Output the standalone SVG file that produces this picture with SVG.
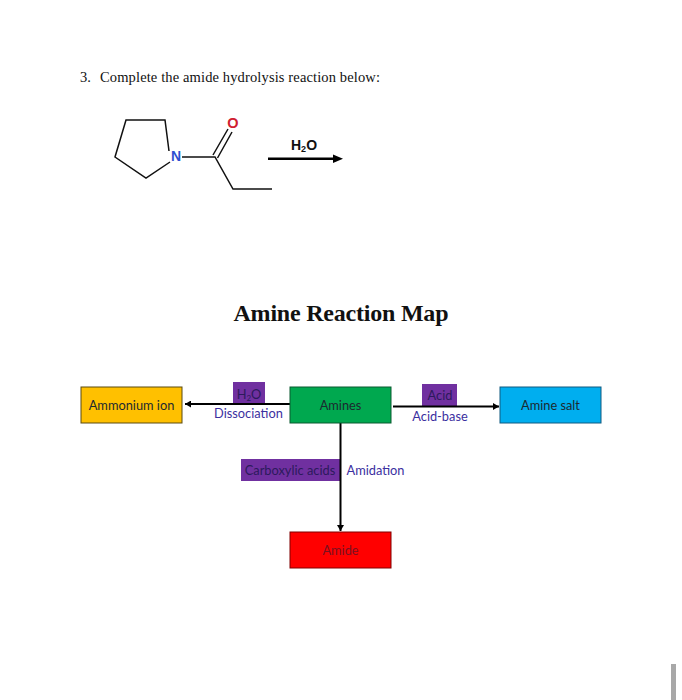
<svg xmlns="http://www.w3.org/2000/svg" width="682" height="700" viewBox="0 0 682 700">
<style>
.node{stroke-width:1}
.tag{fill:#7030a0}
.l{font-family:Lato,"Open Sans",sans-serif;font-size:12.8px;text-anchor:middle;fill:#1c2a30}
.d{fill:#2c1a5c}
.b{font-family:Lato,"Open Sans",sans-serif;font-size:12.8px;text-anchor:middle;fill:#3b2fa0}
.c{fill:none;stroke:#000;stroke-width:2}
.m{fill:none;stroke:#111;stroke-width:1.500}
.s{font-family:"Liberation Serif",serif;fill:#111}
.a{font-family:"Liberation Sans",Arial,sans-serif;font-weight:700}
</style>
<defs>
<marker id="ah" markerUnits="userSpaceOnUse" markerWidth="7" markerHeight="7" refX="6" refY="3.5" orient="auto"><path d="M0 0L6 3.5L0 7Z" fill="#000"/></marker>
</defs>
<rect width="682" height="700" fill="#fff"/>
<text class="s" x="80" y="82" font-size="14.5">3.</text>
<text class="s" x="100" y="82" font-size="14.5" textLength="280">Complete the amide hydrolysis reaction below:</text>
<g id="molecule">
<path class="m" d="M169 151L165 120H126L115 157L146 178L170 162"/>
<path class="m" d="M182 157H215L233 189H272"/>
<path class="m" d="M213 155L228 129M217.500 158L232 132"/>
<text class="a" x="176" y="161" font-size="14" text-anchor="middle" fill="#2f4fd0">N</text>
<text class="a" x="233" y="127.500" font-size="14.500" text-anchor="middle" fill="#d02030">O</text>
</g>
<text class="a" x="304" y="150" font-size="14" text-anchor="middle" fill="#111">H<tspan font-size="9" dy="2">2</tspan><tspan dy="-2">O</tspan></text>
<path d="M268 158.700H336" stroke="#000" stroke-width="2.400" fill="none"/>
<path d="M333 154.500L343 158.700L333 163Z" fill="#000"/>
<text class="s" x="341" y="321" font-size="24" font-weight="700" text-anchor="middle" textLength="215">Amine Reaction Map</text>
<g id="tag-h2o"><rect class="tag" x="233" y="382" width="32" height="23"/><text class="l d" x="249" y="399">H<tspan font-size="8" dy="2">2</tspan><tspan dy="-2">O</tspan></text></g>
<g id="tag-acid"><rect class="tag" x="422" y="384" width="35" height="22"/><text class="l d" x="440" y="400">Acid</text></g>
<g id="tag-carboxylic"><rect class="tag" x="241" y="459" width="99" height="22"/><text class="l d" x="290" y="475">Carboxylic acids</text></g>
<g id="connectors">
<path class="c" d="M290 404H185" marker-end="url(#ah)"/>
<path class="c" d="M393 406.500H499" marker-end="url(#ah)"/>
<path class="c" d="M340.500 423V531" marker-end="url(#ah)"/>
</g>
<g id="ammonium"><rect class="node" x="81" y="387" width="101" height="36" fill="#ffc000" stroke="#5a4a10"/><text class="l" x="131.500" y="410">Ammonium ion</text></g>
<g id="amines"><rect class="node" x="290" y="387" width="101" height="36" fill="#00a84f" stroke="#0a5a30"/><text class="l" x="340.500" y="410">Amines</text></g>
<g id="amine-salt"><rect class="node" x="500" y="387" width="101" height="36" fill="#00aeef" stroke="#105a80"/><text class="l" x="550.500" y="410">Amine salt</text></g>
<g id="amide"><rect class="node" x="290" y="532" width="101" height="36" fill="#ff0000" stroke="#800000"/><text class="l" x="340.500" y="555" style="fill:#7a1020">Amide</text></g>
<text class="b" x="248.500" y="418">Dissociation</text>
<text class="b" x="440" y="421">Acid-base</text>
<text class="b" x="375.500" y="475">Amidation</text>
<rect x="671" y="664" width="5" height="36" fill="#a8a8a8"/>
</svg>
